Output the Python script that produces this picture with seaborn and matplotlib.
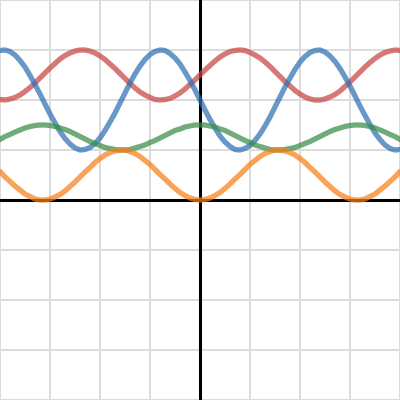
import numpy as np
import pandas as pd
import seaborn as sns
import matplotlib.pyplot as plt

x = np.round(np.linspace(-4, 4, 81), 2)

red = [2.01, 2.00, 2.02, 2.05, 2.10, 2.17, 2.25, 2.34, 2.44, 2.54, 2.64,
       2.73, 2.82, 2.89, 2.94, 2.98, 3.00, 3.00, 2.98, 2.94, 2.88, 2.81,
       2.72, 2.63, 2.53, 2.43, 2.33, 2.24, 2.16, 2.10, 2.05, 2.01, 2.00,
       2.01, 2.03, 2.08, 2.14, 2.22, 2.31, 2.40, 2.50,
       2.60, 2.69, 2.78, 2.86, 2.92, 2.97, 2.99, 3.00, 2.99, 2.95, 2.90,
       2.84, 2.76, 2.67, 2.57, 2.47, 2.37, 2.28, 2.19, 2.12, 2.06, 2.02,
       2.00, 2.00, 2.02, 2.06, 2.11, 2.18, 2.27, 2.36, 2.46, 2.56, 2.66,
       2.75, 2.83, 2.90, 2.95, 2.98, 3.00, 2.99]
blue = [2.99, 3.00, 2.97, 2.90, 2.79, 2.66, 2.49, 2.31, 2.12, 1.92, 1.72,
        1.54, 1.37, 1.23, 1.12, 1.04, 1.00, 1.01, 1.05, 1.13, 1.24, 1.39,
        1.56, 1.74, 1.94, 2.14, 2.34, 2.52, 2.68, 2.81, 2.91, 2.97, 3.00,
        2.99, 2.93, 2.84, 2.72, 2.56, 2.39, 2.20, 2.00,
        1.80, 1.61, 1.44, 1.28, 1.16, 1.07, 1.01, 1.00, 1.03, 1.09, 1.19,
        1.32, 1.48, 1.66, 1.86, 2.06, 2.26, 2.44, 2.61, 2.76, 2.87, 2.95,
        2.99, 3.00, 2.96, 2.88, 2.77, 2.63, 2.46, 2.28, 2.08, 1.88, 1.69,
        1.51, 1.34, 1.21, 1.10, 1.03, 1.00, 1.01]
green = [1.21, 1.27, 1.31, 1.36, 1.40, 1.44, 1.47, 1.49, 1.50, 1.50, 1.49,
         1.47, 1.44, 1.41, 1.37, 1.32, 1.27, 1.22, 1.17, 1.13, 1.09, 1.05,
         1.03, 1.01, 1.00, 1.00, 1.01, 1.04, 1.07, 1.10, 1.15, 1.19, 1.24,
         1.29, 1.34, 1.39, 1.42, 1.46, 1.48, 1.50, 1.50,
         1.50, 1.48, 1.46, 1.42, 1.39, 1.34, 1.29, 1.24, 1.19, 1.15, 1.10,
         1.07, 1.04, 1.01, 1.00, 1.00, 1.01, 1.03, 1.05, 1.09, 1.13, 1.17,
         1.22, 1.27, 1.32, 1.37, 1.41, 1.44, 1.47, 1.49, 1.50, 1.50, 1.49,
         1.47, 1.44, 1.40, 1.36, 1.31, 1.27, 1.21]
orange = [0.57, 0.46, 0.37, 0.28, 0.20, 0.12, 0.07, 0.02, 0.00, 0.00, 0.02,
          0.06, 0.11, 0.18, 0.27, 0.36, 0.46, 0.56, 0.65, 0.75, 0.83, 0.90,
          0.95, 0.98, 1.00, 1.00, 0.97, 0.93, 0.87, 0.79, 0.71, 0.61, 0.51,
          0.42, 0.32, 0.23, 0.15, 0.09, 0.04, 0.01, 0.00,
          0.01, 0.04, 0.09, 0.15, 0.23, 0.32, 0.42, 0.51, 0.61, 0.71, 0.79,
          0.87, 0.93, 0.97, 1.00, 1.00, 0.98, 0.95, 0.90, 0.83, 0.75, 0.65,
          0.56, 0.46, 0.36, 0.27, 0.18, 0.11, 0.06, 0.02, 0.00, 0.00, 0.02,
          0.07, 0.12, 0.20, 0.28, 0.37, 0.46, 0.57]

names = ["red", "blue", "green", "orange"]
colors = ["#c74440", "#2d70b3", "#388c46", "#fa7e19"]

df = pd.concat([pd.DataFrame({"x": x, "y": v, "curve": n})
                for n, v in zip(names, [red, blue, green, orange])])

fig = plt.figure(figsize=(4, 4), dpi=100)
ax = fig.add_axes([0, 0, 1, 1])

ax.set_xlim(-4, 4)
ax.set_ylim(-4, 4)
ax.set_xticks(range(-4, 5))
ax.set_yticks(range(-4, 5))
ax.grid(True, color="#dcdcdc", lw=1.4, zorder=0)
ax.tick_params(length=0, labelbottom=False, labelleft=False)
for s in ax.spines.values():
    s.set_visible(False)
ax.set_axisbelow(True)

ax.axhline(0, color="black", lw=2.2, zorder=1)
ax.axvline(0, color="black", lw=2.2, zorder=1)

for n, c in zip(names, colors):
    sns.lineplot(data=df[df["curve"] == n], x="x", y="y", color=c, lw=3.8,
                 alpha=0.72, ax=ax, legend=False, zorder=2,
                 solid_capstyle="round", solid_joinstyle="round")

ax.set_xlabel("")
ax.set_ylabel("")
fig.savefig("out.png", dpi=100)
